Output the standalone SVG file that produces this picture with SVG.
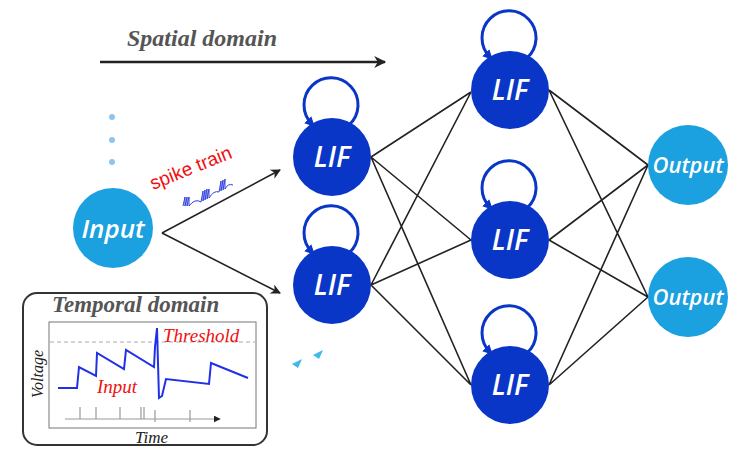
<svg xmlns="http://www.w3.org/2000/svg" width="745" height="464" viewBox="0 0 745 464">
<defs>
<style>
.lif{fill:#0a36c8}.io{fill:#1ba0e0}
.lbl{font-family:"Open Sans","Liberation Sans",sans-serif;font-style:italic;font-weight:600;fill:#fff;text-anchor:middle}
.loop{fill:none;stroke:#0a36c8;stroke-width:3}
.edge{stroke:#222;stroke-width:1.6;fill:none}
.ser{font-family:"Liberation Serif","Times New Roman",serif;font-style:italic}
</style>
<marker id="ah" viewBox="0 0 10 10" refX="9" refY="5" markerWidth="7" markerHeight="7" orient="auto" markerUnits="userSpaceOnUse"><path d="M0,0L10,5L0,10z" fill="#222"/></marker>
<marker id="ah2" viewBox="0 0 10 10" refX="9" refY="5" markerWidth="11" markerHeight="10" orient="auto" markerUnits="userSpaceOnUse"><path d="M0,0L10,5L0,10L3,5z" fill="#222"/></marker>
<marker id="big" viewBox="0 0 10 10" refX="9" refY="5" markerWidth="14" markerHeight="12" orient="auto" markerUnits="userSpaceOnUse"><path d="M0,0L10,5L0,10L3,5z" fill="#222"/></marker>
<marker id="la" viewBox="0 0 10 10" refX="6" refY="5" markerWidth="10" markerHeight="10" orient="auto" markerUnits="userSpaceOnUse"><path d="M0,0L10,5L0,10z" fill="#0a36c8"/></marker>
</defs>
<rect width="745" height="464" fill="#fff"/>
<g id="spatial">
<line x1="100" y1="62" x2="385" y2="62" stroke="#222" stroke-width="2.5" marker-end="url(#big)"/>
<text x="127" y="46" class="ser" font-weight="bold" font-size="24" fill="#555">Spatial domain</text>
</g>
<g id="connectors">
<line class="edge" x1="162" y1="233" x2="280" y2="170" marker-end="url(#ah2)" stroke-width="2.2"/>
<line class="edge" x1="162" y1="233" x2="280" y2="293" marker-end="url(#ah2)" stroke-width="2.2"/>
<path class="edge" d="M371,157L471,92M371,157L471,240M371,157L471,385M371,285L471,92M371,285L471,240M371,285L471,385"/>
<path class="edge" d="M549,90L648,165M549,90L648,297M549,240L648,165M549,240L648,297M549,385L648,165M549,385L648,297"/>
</g>
<g id="dots" fill="#8cc4f0"><circle cx="112" cy="117" r="3"/><circle cx="112" cy="140" r="3"/><circle cx="112" cy="162" r="3"/></g>
<g id="spike">
<text x="0" y="0" transform="translate(153,190) rotate(-22)" font-family="Liberation Sans,Arial,sans-serif" font-size="19" fill="#f01010">spike train</text>
<path d="M183,206l2,-9v9l2,-9v9l2,-9v9q6,-8 12,-4l2,-11v10l2,-11v10l2,-11v10l2,-10v9q5,-8 10,-6l2,-11v10l2,-11v10l2,-11v10q3,-6 8,-4" fill="none" stroke="#3040e0" stroke-width="1"/>
</g>
<g id="input"><circle class="io" cx="113" cy="228" r="40"/><text class="lbl" x="113" y="238" font-size="26">Input</text></g>
<g id="lif1"><path class="loop" d="M349,125A27,27 0 1 0 312,124" marker-end="url(#la)"/><circle class="lif" cx="332" cy="157" r="39"/><text class="lbl" x="332" y="167" font-size="28">LIF</text></g>
<g id="lif2"><path class="loop" d="M349,253A27,27 0 1 0 312,252" marker-end="url(#la)"/><circle class="lif" cx="332" cy="285" r="39"/><text class="lbl" x="332" y="295" font-size="28">LIF</text></g>
<g id="lif3"><path class="loop" d="M527,58A27,27 0 1 0 490,57" marker-end="url(#la)"/><circle class="lif" cx="510" cy="90" r="39"/><text class="lbl" x="510" y="100" font-size="28">LIF</text></g>
<g id="lif4"><path class="loop" d="M527,208A27,27 0 1 0 490,207" marker-end="url(#la)"/><circle class="lif" cx="510" cy="240" r="39"/><text class="lbl" x="510" y="250" font-size="28">LIF</text></g>
<g id="lif5"><path class="loop" d="M527,353A27,27 0 1 0 490,352" marker-end="url(#la)"/><circle class="lif" cx="510" cy="385" r="39"/><text class="lbl" x="510" y="395" font-size="28">LIF</text></g>
<g id="out1"><circle class="io" cx="688" cy="165" r="40"/><text class="lbl" x="688" y="173" font-size="22">Output</text></g>
<g id="out2"><circle class="io" cx="688" cy="297" r="40"/><text class="lbl" x="688" y="305" font-size="22">Output</text></g>
<g id="tri" fill="#40b8ea"><path d="M292,364l10,-5l-4,9z"/><path d="M313,355l10,-5l-4,9z"/></g>
<g id="temporal">
<rect x="23" y="293" width="244" height="152" rx="14" fill="#fff" stroke="#333" stroke-width="2"/>
<text x="52" y="312" class="ser" font-weight="bold" font-size="23" fill="#555">Temporal domain</text>
<rect x="49" y="322" width="207" height="106" fill="none" stroke="#777" stroke-width="1"/>
<line x1="50" y1="342" x2="255" y2="342" stroke="#aaa" stroke-dasharray="4,3"/>
<path d="M65,419H220" stroke="#999" stroke-width="1.2" marker-end="url(#ah)"/>
<path d="M80,407v12M96,407v12M120,407v12M141,407v12M144,407v12M155,410v12M190,410v12" stroke="#999" stroke-width="1.2"/>
<path d="M58,388H77L79,367L96,376L97,353L124,369L126,350L154,367L155,347L157,328L159,398L162,396L166,379L209,384L211,363L248,378" fill="none" stroke="#2030e8" stroke-width="2"/>
<text x="163" y="342" class="ser" font-size="19" fill="#f01010">Threshold</text>
<text x="97" y="393" class="ser" font-size="19" fill="#f01010">Input</text>
<text transform="translate(43,398) rotate(-90)" class="ser" font-size="16" fill="#222">Voltage</text>
<text x="135" y="443" class="ser" font-size="17" fill="#222">Time</text>
</g>
</svg>
